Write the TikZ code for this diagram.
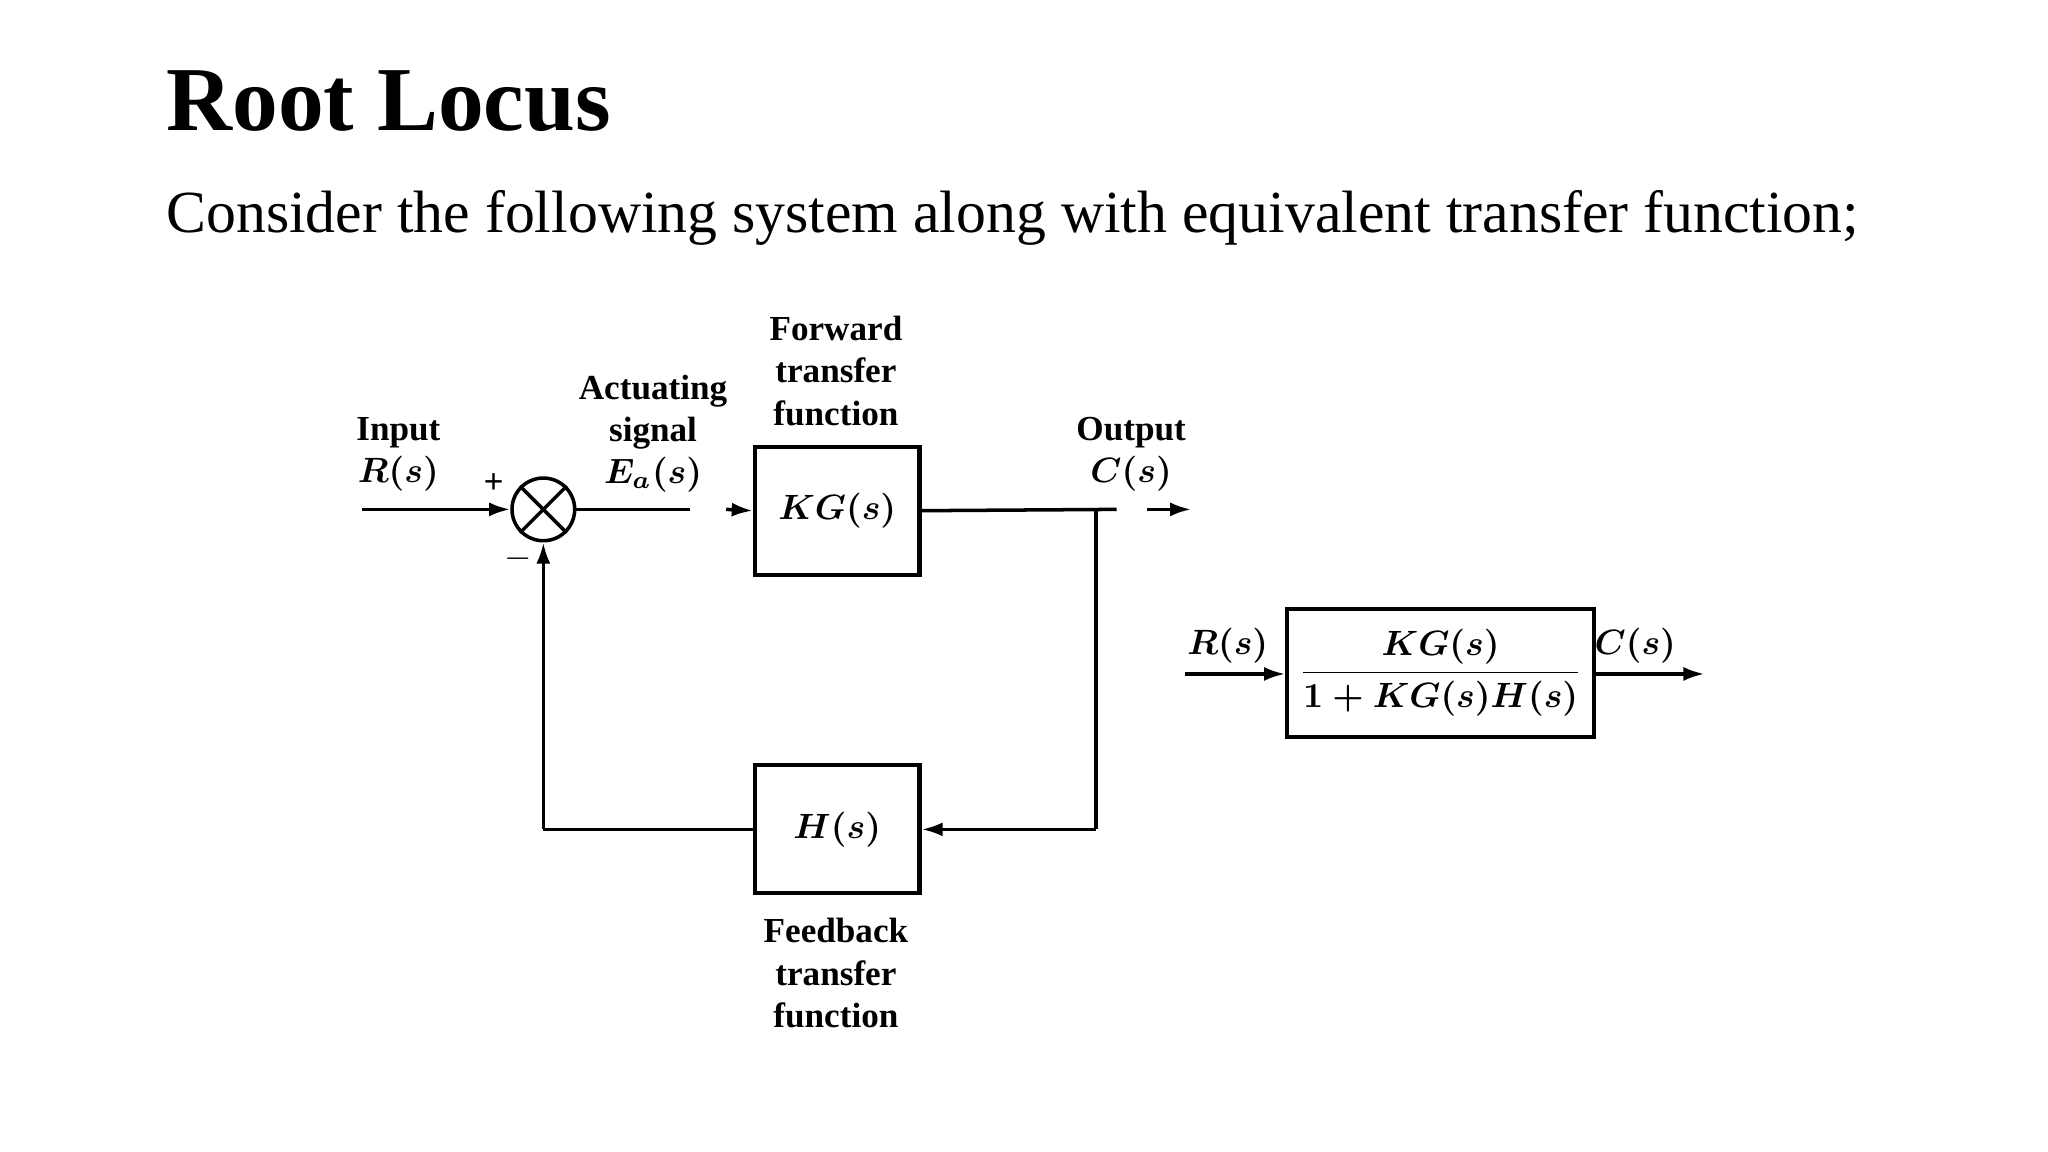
\documentclass[tikz,border=0pt]{standalone}
\usepackage{amsmath}
\usepackage{bm}
\usepackage{fontspec}
\setmainfont{Liberation Serif}
\usetikzlibrary{arrows.meta}
\begin{document}
\begin{tikzpicture}[x=0.01306cm,y=-0.01306cm,
  blk/.style={draw,line width=1.2pt,minimum width=126*0.01306cm,minimum height=98*0.01306cm,inner sep=0pt},
  lbl/.style={font=\fontsize{10}{12}\selectfont\bfseries,align=center},
  ln/.style={line width=1pt},
  arr/.style={ln,-{Latex[length=6pt,width=4pt]}}]
\useasboundingbox (0,0) rectangle (1568,882);
\node[anchor=base west,font=\fontsize{26}{30}\selectfont\bfseries] (title) at (118,100) {Root Locus};
\node[anchor=base west,font=\fontsize{17}{20}\selectfont] (sub) at (118,178) {Consider the following system along with equivalent transfer function;};
% blocks
\node[blk] (kg) at (641,391) {\fontsize{10}{12}\selectfont$\bm{KG(s)}$};
\node[blk] (h) at (641,635) {\fontsize{10}{12}\selectfont$\bm{H(s)}$};
\node[draw,circle,line width=1pt,minimum size=48*0.01306cm,inner sep=0pt] (sum) at (416,390) {};
\draw[line width=1pt] (sum.north west)--(sum.south east) (sum.north east)--(sum.south west);
\coordinate (in) at (277,390);
\coordinate (e1) at (528,390);
\coordinate (e2) at (556,390);
\coordinate (br) at (839,390);
\coordinate (o1) at (855,390);
\coordinate (o2) at (878,390);
\coordinate (o3) at (912,390);
\coordinate (bb) at (839,635);
\coordinate (fb) at (416,635);
\draw[arr] (in)--(sum.west);
\draw[ln] (sum.east)--(e1);
\draw[arr] (e2)--(kg.west);
\draw[ln] (kg.east)--(o1);
\draw[arr] (o2)--(o3);
\draw[ln] (br)--(bb);
\draw[arr] (bb)--(h.east);
\draw[ln] (h.west)--(fb);
\draw[arr] (fb)--(sum.south);
\node[lbl] (plus) at (378,370) {+};
\node[lbl] (minus) at (397,428) {$-$};
\node[lbl] (inl) at (305,348) {Input\\$\bm{R(s)}$};
\node[lbl] (act) at (500,332) {Actuating\\signal\\$\bm{E_a(s)}$};
\node[lbl] (fwd) at (640,284) {Forward\\transfer\\function};
\node[lbl] (out) at (866,348) {Output\\$\bm{C(s)}$};
\node[lbl] (fbl) at (640,745) {Feedback\\transfer\\function};
% equivalent
\node[draw,line width=1.2pt,minimum width=226*0.01306cm,minimum height=98*0.01306cm] (eq) at (1103,515)
 {\fontsize{10}{12}\selectfont$\displaystyle\bm{\frac{KG(s)}{1+KG(s)H(s)}}$};
\coordinate (ri) at (907,516);
\coordinate (co) at (1305,516);
\draw[arr] (ri)--(eq.west|-ri);
\draw[arr] (eq.east|-co)--(co);
\node[lbl] (rl) at (940,494) {$\bm{R(s)}$};
\node[lbl] (cl) at (1252,494) {$\bm{C(s)}$};
\end{tikzpicture}
\end{document}
